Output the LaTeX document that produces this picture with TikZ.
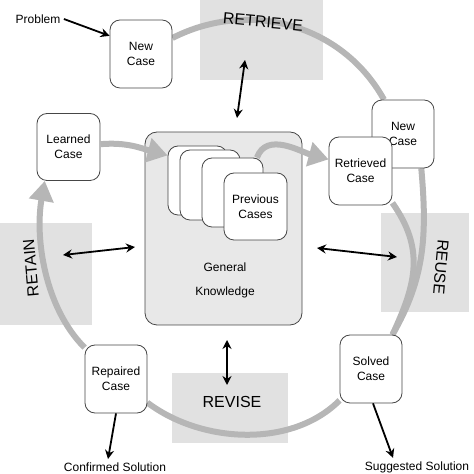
\documentclass[tikz,border=0pt]{standalone}
\usepackage{fontspec}
\setmainfont{Liberation Sans}
\usetikzlibrary{arrows.meta}
\definecolor{ringgray}{RGB}{182,182,182}
\definecolor{phasegray}{RGB}{225,225,225}
\definecolor{kbgray}{RGB}{232,232,232}
\definecolor{edgegray}{RGB}{70,70,70}
\pgfdeclarelayer{phase}
\pgfdeclarelayer{ring}
\pgfsetlayers{phase,ring,main}
\tikzset{
  casebox/.style={draw=edgegray, line width=0.8bp, fill=white, rounded corners=10bp,
    minimum width=62bp, minimum height=68bp, align=center, inner sep=1bp,
    font=\fontsize{12bp}{15bp}\selectfont},
  phasebox/.style={fill=phasegray, inner sep=0pt},
  phasetext/.style={font=\fontsize{16bp}{18bp}\selectfont},
  plaintext/.style={font=\fontsize{12bp}{14bp}\selectfont},
  ringline/.style={draw=ringgray, line width=6bp},
  ringarrow/.style={ringline, -{Triangle[length=20bp,width=24bp]}},
  linkarrow/.style={line width=1.8bp, {Stealth[length=9bp,width=9bp]}-{Stealth[length=9bp,width=9bp]}},
  outarrow/.style={line width=1.8bp, -{Stealth[length=9bp,width=9bp]}}
}
\begin{document}
\begin{tikzpicture}[x=1bp, y=1bp]
      \useasboundingbox (0,0) rectangle (474,474);
      \begin{pgfonlayer}{phase}
        \node[phasebox, minimum width=123bp, minimum height=80bp] (retrievebox) at (261.5,434) {};
        \node[phasebox, minimum width=88bp, minimum height=99bp] (reusebox) at (425,211.5) {};
        \node[phasebox, minimum width=116bp, minimum height=70bp] (revisebox) at (230,66) {};
        \node[phasebox, minimum width=92bp, minimum height=102bp] (retainbox) at (46,200) {};
      \end{pgfonlayer}
      \node[phasetext, rotate=-5] (retrieve) at (263,452) {RETRIEVE};
      \node[phasetext, rotate=-95] (reuse) at (441,207) {REUSE};
      \node[phasetext] (revise) at (232,72) {REVISE};
      \node[phasetext, rotate=95] (retain) at (31,206) {RETAIN};
      \node[draw=edgegray, line width=0.8bp, fill=kbgray, rounded corners=12bp,
        minimum width=157bp, minimum height=193bp] (kb) at (223.5,245.5) {};
      \node[plaintext] (general) at (225,207) {General};
      \node[plaintext] (knowledge) at (225,182) {Knowledge};
      \node[casebox, minimum width=59bp, minimum height=69bp] (cardA) at (197.5,293.5) {};
      \node[casebox, minimum width=60bp, minimum height=70bp] (cardB) at (210,289) {};
      \node[casebox, minimum width=61bp, minimum height=69bp] (cardC) at (232.5,281.5) {};
      \node[casebox, minimum width=63bp, minimum height=67bp] (prev) at (255.5,267.5) {Previous\\Cases};
      \node[casebox] (newA) at (141,420) {New\\Case};
      \node[casebox] (newB) at (403,340) {New\\Case};
      \node[casebox, minimum width=63bp] (retrieved) at (360.5,303) {Retrieved\\Case};
      \node[casebox, minimum width=63bp, minimum height=67bp] (learned) at (68.5,327) {Learned\\Case};
      \node[casebox] (solved) at (371,105) {Solved\\Case};
      \node[casebox] (repaired) at (116,95) {Repaired\\Case};
      \node[plaintext] (problem) at (38,455) {Problem};
      \node[plaintext] (confirmed) at (115,7) {Confirmed Solution};
      \node[plaintext] (suggested) at (417,7) {Suggested Solution};
      \coordinate (retrieveA) at (245,414);
      \coordinate (retrieveB) at (237,356);
      \coordinate (retainA) at (63,219);
      \coordinate (retainB) at (135,227);
      \coordinate (reuseA) at (317,226);
      \coordinate (reuseB) at (397,217);
      \coordinate (reviseA) at (227,134);
      \coordinate (reviseB) at (227,89);
      \begin{pgfonlayer}{ring}
        \draw[ringline] (newA) to[out=27, in=119] (newB);
        \draw[ringline] (newB.-62) to[out=-85, in=60] (solved.58);
        \draw[ringline] (retrieved.-45) to[out=-55, in=65, looseness=1.1] (solved.58);
        \draw[ringline] (solved) to[out=-135, in=-37, looseness=0.9] (repaired);
        \draw[ringarrow] (repaired) to[out=135, in=-100, looseness=0.85] (learned.235);
      \end{pgfonlayer}
      \draw[ringarrow] (learned) to[out=5, in=165] (cardA.140);
      \draw[ringarrow] (cardC.55) to[out=70, in=165] (retrieved.160);
      \begin{scope}[outarrow]
        \draw (problem.east) -- (newA.150);
        \draw (repaired.south) -- ([xshift=-7bp]confirmed.north);
        \draw ([xshift=2bp]solved.south) -- ([xshift=-24bp]suggested.north);
      \end{scope}
      \begin{scope}[linkarrow]
        \draw (retrieveA) -- (retrieveB);
        \draw (retainA) -- (retainB);
        \draw (reuseA) -- (reuseB);
        \draw (reviseA) -- (reviseB);
      \end{scope}
    \end{tikzpicture}
\end{document}
